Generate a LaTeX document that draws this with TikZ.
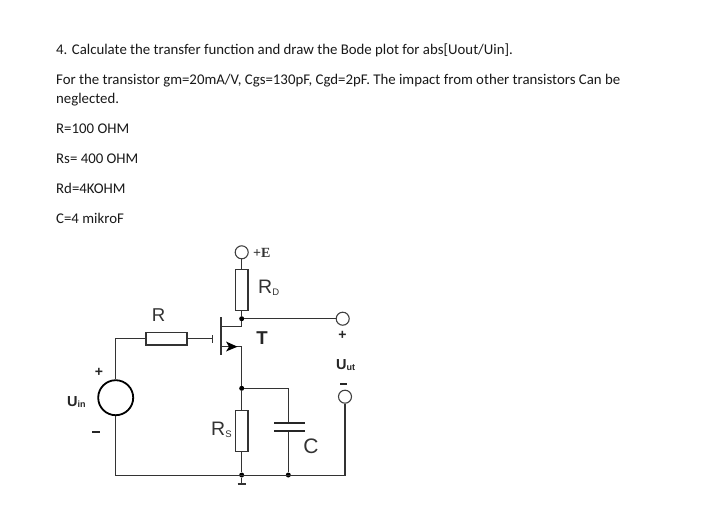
\documentclass[tikz,border=0pt]{standalone}
\usepackage{fontspec}
\setmainfont{Carlito}
\newfontfamily\cirf{Liberation Sans}
\newfontfamily\serf{Liberation Serif}
\tikzset{
 x=1pt,y=-1pt,
 txt/.style={anchor=base west,inner sep=0,font=\fontsize{14.82}{16}\selectfont,text=black!90},
 wire/.style={line width=1.3pt,draw=black!80},
 res/.style={draw=black!80,line width=1.2pt,fill=white,inner sep=0,minimum width=12.6pt,minimum height=41pt},
 resh/.style={draw=black!80,line width=1.5pt,fill=white,inner sep=0,minimum width=41pt,minimum height=12.6pt},
 term/.style={circle,draw=black!75,line width=1.1pt,fill=white,inner sep=0,minimum size=13pt},
 src/.style={circle,draw=black,line width=1.8pt,fill=white,inner sep=0,minimum size=35pt},
 dotn/.style={circle,fill=black,inner sep=0,minimum size=5pt},
 lab/.style={inner sep=0,font=\cirf\fontsize{18.6}{19}\selectfont,text=black!80},
 sgn/.style={inner sep=0,font=\cirf\bfseries\fontsize{14}{14}\selectfont,text=black!85},
 ulab/.style={anchor=base west,inner sep=0,font=\cirf\bfseries\fontsize{14.5}{15}\selectfont,text=black!85},
}
\begin{document}
\begin{tikzpicture}
\useasboundingbox (0,0) rectangle (719,520);
\fill[white] (0,0) rectangle (719,520);
% text
\node[txt] (t1) at (56,54) {4. Calculate the transfer function and draw the Bode plot for abs[Uout/Uin].};
\node[txt] (t2) at (56,84) {For the transistor gm=20mA/V, Cgs=130pF, Cgd=2pF. The impact from other transistors Can be};
\node[txt] (t3) at (56,103) {neglected.};
\node[txt] (t4) at (56,133) {R=100 OHM};
\node[txt] (t5) at (56,163) {Rs= 400 OHM};
\node[txt] (t6) at (56,193) {Rd=4KOHM};
\node[txt] (t7) at (56,223) {C=4 mikroF};
% nodes
\node[term] (vdd) at (241.7,252.3) {};
\node[res] (rd) at (241.7,289.8) {};
\node[dotn] (dn) at (241.7,318.7) {};
\node[term] (out) at (342.7,318.7) {};
\node[resh] (r) at (166.5,338.7) {};
\node[src] (uin) at (115.7,397.7) {};
\node[dotn] (sn) at (241.7,388.3) {};
\node[res] (rs) at (241.7,431.3) {};
\node[dotn] (gn) at (241.7,475) {};
\node[dotn] (cn) at (288.3,475) {};
\node[term] (outb) at (345,396.7) {};
\coordinate (gt) at (212.7,338.7);
\coordinate (gl) at (115.7,338.7);
\coordinate (bl) at (115.7,475.4);
\coordinate (br) at (345,475.4);
\coordinate (dr) at (221,326.7);
\coordinate (dc) at (241.7,326.7);
\coordinate (sr) at (221,346.7);
\coordinate (sc) at (241.7,346.7);
\coordinate (ctop) at (288.3,388.3);
\coordinate (cp1) at (288.3,423);
\coordinate (cp2) at (288.3,430.7);
\coordinate (gnd) at (241.7,484);
% connectors
\draw[wire] (vdd) -- (rd);
\draw[wire] (rd) -- (dn);
\draw[wire] (dn) -- (out);
\draw[wire] (dn) -- (dc) -- (dr);
\draw[line width=1.7pt,draw=black!80] (221,317) -- (221,355);
\draw[wire] (r) -- (gt);
\draw[wire] (212.7,335) -- (212.7,342.7);
\draw[wire] (r) -- (gl) -- (uin);
\draw[wire] (sr) -- (sc) -- (sn);
\fill[black] (237.5,346.7) -- (226,341.5) -- (229,346.7) -- (226,351.5) -- cycle;
\draw[wire] (uin) -- (bl) -- (br) -- (outb);
\draw[wire] (sn) -- (rs);
\draw[wire] (rs) -- (gn);
\draw[wire] (gn) -- (gnd);
\draw[wire] (237.5,484) -- (245.9,484);
\draw[wire] (sn) -- (ctop) -- (cp1);
\draw[wire] (cp2) -- (cn);
\draw[line width=1.7pt,draw=black!85] (274,423) -- (304.7,423);
\draw[line width=1.7pt,draw=black!85] (274,430.7) -- (304.7,430.7);
% labels
\node[inner sep=0,anchor=base west,font=\serf\bfseries\fontsize{14}{14}\selectfont,text=black!80] (le) at (253,257) {+E};
\node[lab,anchor=base west] (lrd) at (258,293) {\fontsize{19.5}{20}\selectfont R\raisebox{-2.5pt}{\fontsize{9.5}{10}\selectfont D}};
\node[lab] (lr) at (158.5,315) {R};
\node[inner sep=0,font=\cirf\bfseries\fontsize{18.6}{19}\selectfont,text=black!85] (lt) at (262,338.5) {T};
\node[sgn] (pout) at (342.5,335) {+};
\node[ulab] (luo) at (336,369) {U\raisebox{-1.5pt}{\fontsize{9}{9}\selectfont ut}};
\node[sgn] (mout) at (343.5,384) {\rule{7pt}{1.1pt}};
\node[sgn] (pin) at (99,372) {+};
\node[sgn] (min) at (96,432) {\rule{8pt}{1.2pt}};
\node[ulab] (lui) at (67,406) {U\raisebox{-1.5pt}{\fontsize{9}{9}\selectfont in}};
\node[lab,anchor=base west] (lrs) at (211,435) {\fontsize{19.5}{20}\selectfont R\raisebox{-2.5pt}{\fontsize{9.5}{10}\selectfont S}};
\node[inner sep=0,font=\cirf\fontsize{21}{21}\selectfont,text=black!80] (lc) at (311,446) {C};
\end{tikzpicture}
\end{document}
